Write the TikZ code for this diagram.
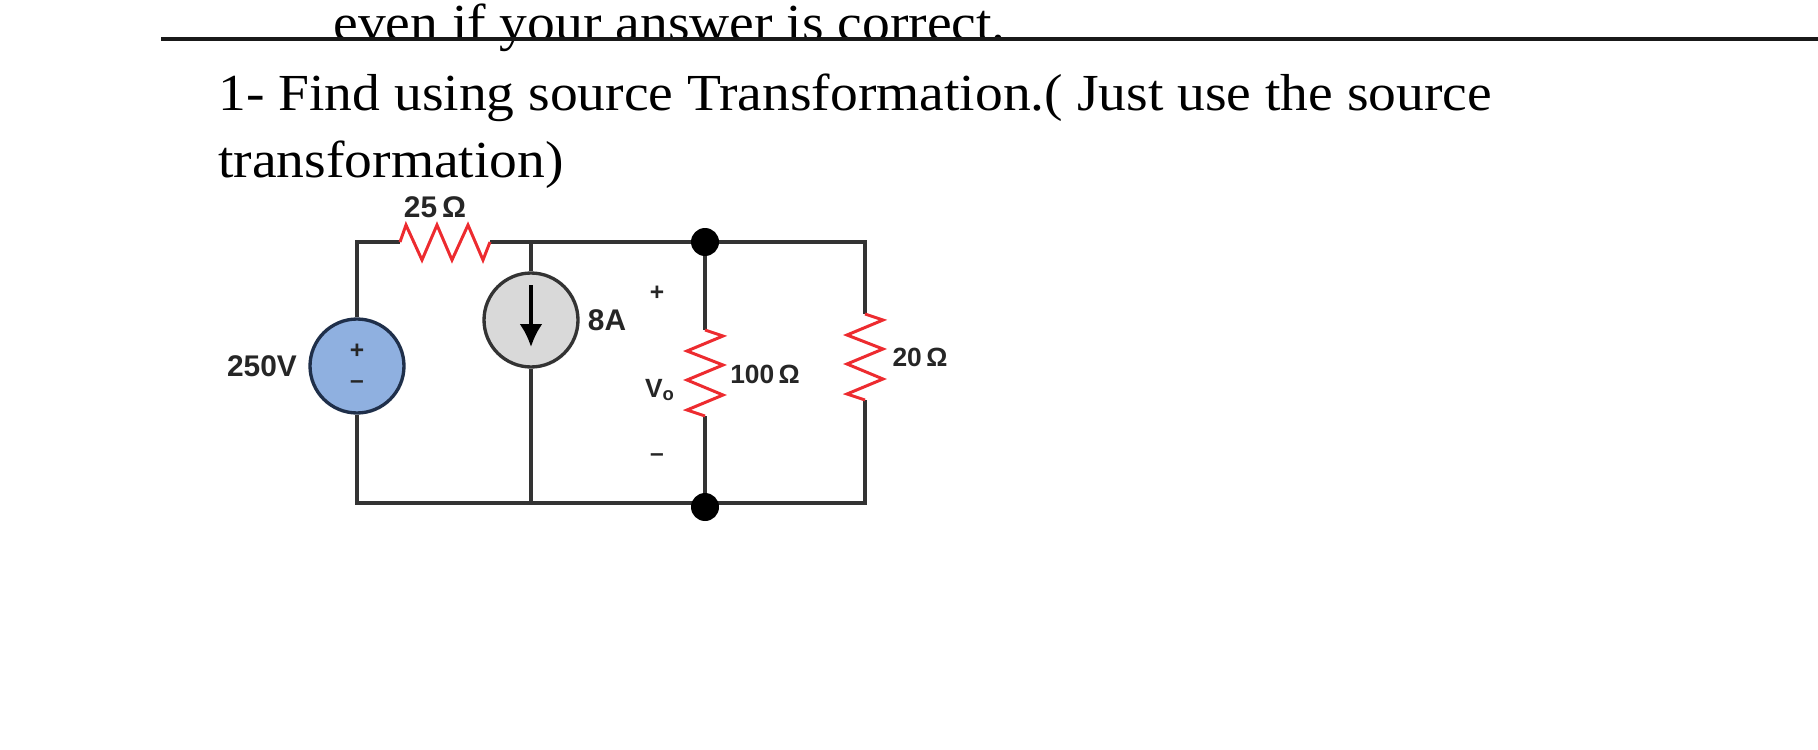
\documentclass[tikz,border=0pt]{standalone}
\usepackage{fontspec}
\usetikzlibrary{arrows.meta}
\setmainfont{Liberation Serif}
\newfontfamily\headfont[FakeStretch=1.068]{Liberation Serif}
\newfontfamily\lblfont{Liberation Sans}
\definecolor{wirecol}{HTML}{333333}
\definecolor{rescol}{HTML}{ED2B2F}
\definecolor{vsblue}{HTML}{8FB0E0}
\definecolor{vsline}{HTML}{1F2F4A}
\definecolor{isgray}{HTML}{D9D9D9}
\tikzset{
    wire/.style={draw=wirecol, line width=1.8pt, line join=miter},
    resistor/.style={draw=rescol, line width=1.7pt, line join=miter},
    source/.style={circle, draw=wirecol, line width=1.9pt, minimum size=1.88cm, inner sep=0pt},
    junction/.style={circle, fill=black, minimum size=0.56cm, inner sep=0pt},
    lbl/.style={font=\lblfont\bfseries\fontsize{15}{18}\selectfont, text=black!85, inner sep=0pt},
    lblbig/.style={font=\lblfont\bfseries\fontsize{17}{20}\selectfont, text=black!85, inner sep=0pt},
    sign/.style={font=\lblfont\bfseries\fontsize{14}{16}\selectfont, text=black!85, inner sep=0pt},
    head/.style={font=\headfont\fontsize{29.6}{32}\selectfont, text=black, inner sep=0pt, anchor=base west}
}
\begin{document}
\begin{tikzpicture}[x=0.02cm, y=-0.02cm]
    \useasboundingbox (0,0) rectangle (1818,750);

    % Heading text
    \node[head] (even) at (333,41) {even if your answer is correct.};
    \coordinate (ruleL) at (161,39);
    \coordinate (ruleR) at (1818,39);
    \draw[black!90, line width=2.3pt] (ruleL) -- (ruleR);
    \node[head] (lineA) at (218,111) {1- Find using source Transformation.( Just use the source};
    \node[head] (lineB) at (218,177) {transformation)};

    % Corners of the circuit
    \coordinate (tl) at (357,242);
    \coordinate (tr) at (865,242);
    \coordinate (bl) at (357,503);
    \coordinate (br) at (865,503);
    \coordinate (topI) at (531,242);
    \coordinate (botI) at (531,503);

    % Sources
    \node[source, fill=vsblue, draw=vsline] (vs) at (357,366) {};
    \node[source, fill=isgray] (is) at (531,320) {};

    % Resistor end points
    \coordinate (r25a) at (400,242);
    \coordinate (r25b) at (490,242);
    \coordinate (r100a) at (705,330);
    \coordinate (r100b) at (705,416);
    \coordinate (r20a) at (865,314);
    \coordinate (r20b) at (865,400);

    % Outer wires, under the dots
    \draw[wire] (vs) -- (tl) -- (r25a);
    \draw[wire] (vs) -- (bl) -- (br) -- (r20b);
    \draw[wire] (r25b) -- (tr) -- (r20a);
    \draw[wire] (topI) -- (is);
    \draw[wire] (is) -- (botI);

    % Dots at the top and bottom of the 100 ohm branch
    \node[junction] (nTop) at (705,242) {};
    \node[junction] (nBot) at (705,507) {};
    \draw[wire] (nTop) -- (r100a);
    \draw[wire] (r100b) -- (nBot);

    % Resistors
    \draw[resistor] (r25a) -- ++(6,-17) -- ++(16,35) -- ++(15,-35) -- ++(15,35) -- ++(16,-35) -- ++(15,35) -- (r25b);
    \draw[resistor] (r100a) -- ++(18,6) -- ++(-36,15) -- ++(36,14) -- ++(-36,15) -- ++(36,15) -- ++(-36,15) -- (r100b);
    \draw[resistor] (r20a) -- ++(18,6) -- ++(-36,15) -- ++(36,14) -- ++(-36,15) -- ++(36,15) -- ++(-36,15) -- (r20b);

    % Arrow of the current source
    \coordinate (isA) at (531,285);
    \coordinate (isB) at (531,347);
    \draw[black, line width=2pt, -{Latex[length=0.46cm, width=0.46cm]}] (isA) -- (isB);

    % Labels
    \node[lblbig] (l25) at (435,207) {25\,Ω};
    \node[lblbig] (l250) at (262,366) {250V};
    \node[sign] (vsP) at (357,351) {+};
    \node[sign] (vsM) at (357,385) {–};
    \node[lblbig] (l8) at (607,320) {8A};
    \node[sign] (voP) at (657,293) {+};
    \node[lbl] (vo) at (660,390) {V\textsubscript{o}};
    \node[sign] (voM) at (657,458) {–};
    \node[lbl] (l100) at (765,374) {100\,Ω};
    \node[lbl] (l20) at (920,357) {20\,Ω};
\end{tikzpicture}
\end{document}
